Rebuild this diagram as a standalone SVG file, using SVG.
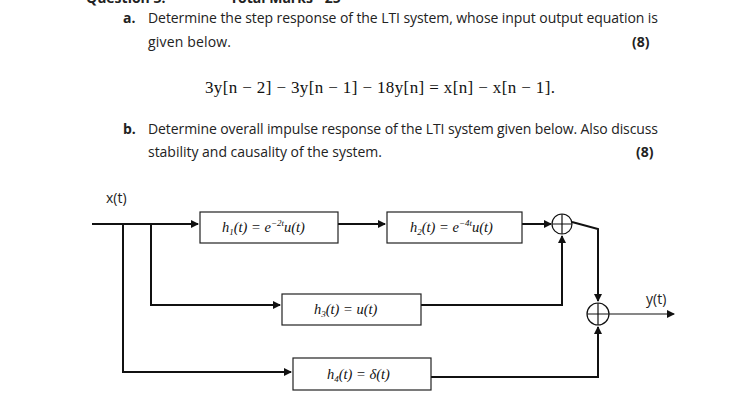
<svg xmlns="http://www.w3.org/2000/svg" width="742" height="419" viewBox="0 0 742 419">
<style>
.t{font-family:"Open Sans","Liberation Sans",Arial,sans-serif;font-size:14px;fill:#222}
.b{font-weight:bold}
.m{font-family:"Liberation Serif","DejaVu Serif",serif;font-style:italic;font-size:14.5px;fill:#111}
.eq{font-family:"Liberation Serif","DejaVu Serif",serif;font-size:17px;fill:#111}
.box{fill:#fff;stroke:#222;stroke-width:1.2}
.ln{fill:none;stroke:#111;stroke-width:2}
.sum{fill:#fff;stroke:#111;stroke-width:1.2}
</style>
<defs><marker id="a" markerWidth="8" markerHeight="8" refX="7" refY="4" orient="auto" markerUnits="userSpaceOnUse"><path d="M0,0L8,4L0,8z" fill="#111"/></marker></defs>
<rect width="742" height="419" fill="#fff"/>
<text class="t b" x="86" y="3">Question 3:</text><text class="t b" x="230" y="3">Total Marks - 25</text>
<text class="t b" x="123" y="23">a.</text>
<text class="t" x="148" y="23" textLength="510">Determine the step response of the LTI system, whose input output equation is</text>
<text class="t" x="148" y="47" textLength="83">given below.</text>
<text class="t b" x="632" y="47">(8)</text>
<text class="eq" x="205" y="93" textLength="350">3y[n − 2] − 3y[n − 1] − 18y[n] = x[n] − x[n − 1].</text>
<text class="t b" x="123" y="134">b.</text>
<text class="t" x="148" y="134" textLength="510">Determine overall impulse response of the LTI system given below. Also discuss</text>
<text class="t" x="148" y="157" textLength="234">stability and causality of the system.</text>
<text class="t b" x="636" y="157">(8)</text>
<text class="t" x="106" y="203">x(t)</text>
<text class="t" x="646" y="304">y(t)</text>
<g id="connectors">
<path class="ln" d="M92,224H198" marker-end="url(#a)"/>
<path class="ln" d="M337,224H385" marker-end="url(#a)"/>
<path class="ln" d="M522,224H551" marker-end="url(#a)"/>
<path class="ln" d="M123,224V372H291" marker-end="url(#a)"/>
<path class="ln" d="M151,224V305H280" marker-end="url(#a)"/>
<path class="ln" d="M421,305H562V236" marker-end="url(#a)"/>
<path class="ln" d="M572,222L598,229V301" marker-end="url(#a)"/>
<path class="ln" d="M431,377H598V327" marker-end="url(#a)"/>
<path fill="none" stroke="#111" stroke-width="1.2" d="M609,314H674" marker-end="url(#a)"/>
</g>
<g id="h1"><rect class="box" x="200" y="212" width="138" height="31"/><text class="m" x="222" y="232">h<tspan font-size="9" dy="3">1</tspan><tspan dy="-3">(t) = e</tspan><tspan font-size="9" dy="-6">−2t</tspan><tspan dy="6">u(t)</tspan></text></g>
<g id="h2"><rect class="box" x="387" y="212" width="135" height="31"/><text class="m" x="410" y="232">h<tspan font-size="9" dy="3">2</tspan><tspan dy="-3">(t) = e</tspan><tspan font-size="9" dy="-6">−4t</tspan><tspan dy="6">u(t)</tspan></text></g>
<g id="h3"><rect class="box" x="282" y="294" width="139" height="31"/><text class="m" x="314" y="314">h<tspan font-size="9" dy="3">3</tspan><tspan dy="-3">(t) = u(t)</tspan></text></g>
<g id="h4"><rect class="box" x="293" y="358" width="138" height="32"/><text class="m" x="327" y="379">h<tspan font-size="9" dy="3">4</tspan><tspan dy="-3">(t) = δ(t)</tspan></text></g>
<g id="sum1"><circle class="sum" cx="562" cy="224" r="10"/><path stroke="#111" stroke-width="1.2" d="M552,224H572M562,214V234"/></g>
<g id="sum2"><circle class="sum" cx="598" cy="314" r="11"/><path stroke="#111" stroke-width="1.2" d="M587,314H609M598,303V325"/></g>
</svg>
